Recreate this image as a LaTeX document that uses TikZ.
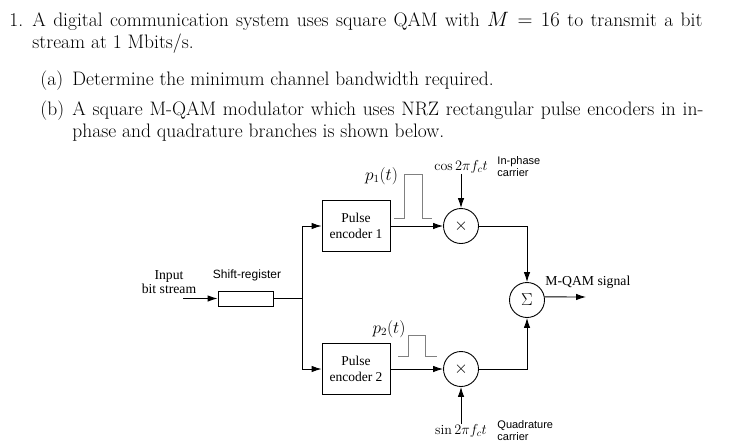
\documentclass[tikz,border=0pt]{standalone}
\usepackage{fontspec}
\usetikzlibrary{arrows.meta}
\newfontfamily\timesfont{Liberation Serif}
\newfontfamily\arialfont{Liberation Sans}
\begin{document}
\begin{tikzpicture}[x=1pt, y=-1pt, >={Latex[length=10pt,width=6.5pt]}, line width=0.9pt,
    text line/.style={anchor=base west, inner sep=0pt, font=\fontsize{19.5}{22}\selectfont},
    block/.style={rectangle, draw, minimum width=68pt, minimum height=51pt, inner sep=0pt, align=center, font=\timesfont\fontsize{13.5}{15.5}\selectfont},
    reg/.style={rectangle, draw, minimum width=55pt, minimum height=15pt, inner sep=0pt},
    op/.style={circle, draw, minimum size=35pt, inner sep=0pt, font=\fontsize{17}{17}\selectfont},
    serif label/.style={inner sep=0pt, align=center, font=\timesfont\fontsize{13.7}{14}\selectfont},
    sans label/.style={inner sep=0pt, align=left, font=\arialfont\fontsize{11}{12.5}\selectfont},
    math label/.style={inner sep=0pt, font=\fontsize{14}{16}\selectfont},
    pulse/.style={draw=gray, line width=0.9pt}]
    \useasboundingbox (0,0) rectangle (733,447);

    % Problem text
    \node[text line] (n1) at (9,26) {1.};
    \node[text line] (l1) at (32,26) {\makebox[670pt][s]{A digital communication system uses square QAM with $M = 16$ to transmit a bit}};
    \node[text line] (l2) at (32,48) {stream at 1 Mbits/s.};
    \node[text line] (na) at (40,85) {(a)};
    \node[text line] (la) at (72,85) {Determine the minimum channel bandwidth required.};
    \node[text line] (nb) at (40,115) {(b)};
    \node[text line] (lb) at (72,115) {\makebox[631pt][s]{A square M-QAM modulator which uses NRZ rectangular pulse encoders in in-}};
    \node[text line] (lc) at (72,137) {phase and quadrature branches is shown below.};

    % Blocks
    \node[block] (E1) at (356,226) {Pulse\\encoder 1};
    \node[block] (E2) at (356,369) {Pulse\\encoder 2};
    \node[op] (M1) [right of=E1, node distance=105pt] {$\times$};
    \node[op] (M2) [right of=E2, node distance=105pt] {$\times$};
    \node[op] (S) at (527,300) {$\Sigma$};
    \node[reg] (R) at (245.5,298.5) {};

    % Free ends and corners
    \coordinate (in) at (183,298.5);
    \coordinate (J) at (302,298.5);
    \coordinate (out) at (586,297);

    % Labels
    \node[serif label] (input) at (169,282) {Input\\[-0.5pt]bit stream};
    \node[sans label, font=\arialfont\fontsize{12}{12.5}\selectfont] (sr) at (247,275) {Shift-register};
    \node[math label] (cosl) at (461,167) {$\cos 2\pi f_c t$};
    \node[math label] (sinl) at (461,431) {$\sin 2\pi f_c t$};
    \node[sans label, anchor=west] (ip) at (497,166.5) {In-phase\\carrier};
    \node[sans label, anchor=west] (qd) at (497,430.5) {Quadrature\\carrier};
    \node[math label, font=\fontsize{16}{18}\selectfont] (p1) at (381.5,176) {$p_1(t)$};
    \node[math label, font=\fontsize{16}{18}\selectfont] (p2) at (389,329) {$p_2(t)$};
    \node[serif label, anchor=west] (mq) at (545,282) {M-QAM signal};

    % Connectors
    \draw[->] (in) -- (R);
    \draw (R) -- (J);
    \draw[->] (J) |- (E1);
    \draw[->] (J) |- (E2);
    \draw[->] (E1) -- (M1);
    \draw[->] (E2) -- (M2);
    \draw[->] (cosl) -- (M1);
    \draw[->] (sinl) -- (M2);
    \draw[->] (M1) -| (S);
    \draw[->] (M2) -| (S);
    \draw[->] (S.10) -- (out);

    % Pulses
    \draw[pulse] (394,218) -- (404,218) -- (404,174) -- (422,174) -- (422,218) -- (432,218);
    \draw[pulse] (398,356) -- (408,356) -- (408,335) -- (425,335) -- (425,356) -- (437,356);

\end{tikzpicture}
\end{document}
